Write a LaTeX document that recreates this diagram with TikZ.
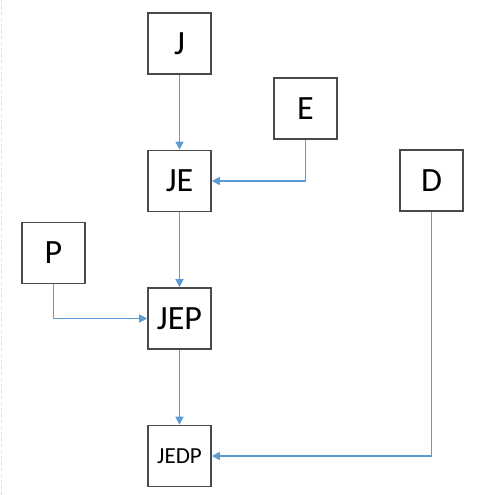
\documentclass[tikz,border=0pt]{standalone}
\usepackage{fontspec}
\setmainfont{Carlito}
\usetikzlibrary{arrows.meta}
\definecolor{boxline}{HTML}{4A4A4A}
\definecolor{conn}{HTML}{5B9BD5}
\tikzset{
  box/.style={draw=boxline, line width=1.6pt, fill=white, minimum width=63pt, minimum height=61pt, inner sep=0pt, font=\fontsize{34}{34}\selectfont},
  smallbox/.style={box, font=\fontsize{23}{23}\selectfont},
  link/.style={draw=conn, line width=1.2pt, -{Triangle[length=8pt,width=8pt]}}
}
\begin{document}
\begin{tikzpicture}[x=1pt,y=-1pt]
\useasboundingbox (0,0) rectangle (479,495);
\draw[gray!25, dashed, line width=0.8pt] (1.5,0) -- (1.5,495);
\node[box] (J) at (179.5,43.5) {J};
\node[box] (E) at (305.5,108.5) {E};
\node[box] (JE) at (179.5,181) {JE};
\node[box] (D) at (431.5,180.5) {D};
\node[box] (P) at (53.5,253) {P};
\node[box] (JEP) at (179.5,318.5) {JEP};
\node[smallbox] (JEDP) at (179.5,456) {JEDP};
\draw[link] (J.south) -- (JE.north);
\draw[link] (E.south) |- (JE.east);
\draw[link] (JE.south) -- (JEP.north);
\draw[link] (P.south) |- (JEP.west);
\draw[link] (JEP.south) -- (JEDP.north);
\draw[link] (D.south) |- (JEDP.east);
\end{tikzpicture}
\end{document}
